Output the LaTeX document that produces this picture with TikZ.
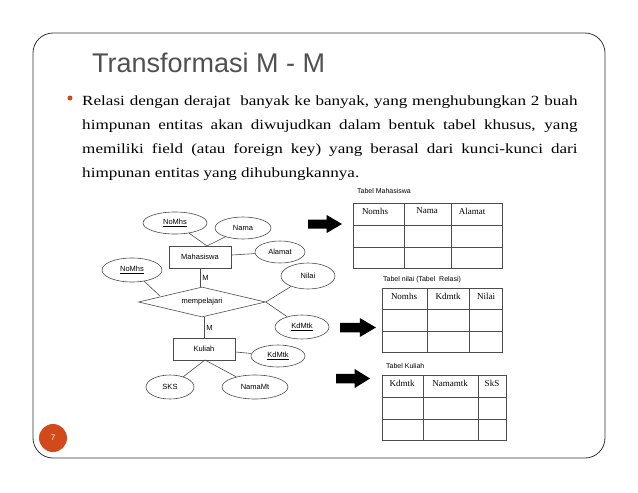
\documentclass[tikz,border=0pt]{standalone}
\usepackage{fontspec}
\setmainfont{Liberation Serif}
\setsansfont{Liberation Sans}
\usetikzlibrary{shapes.geometric}
\definecolor{pg}{HTML}{D24A1C}
\definecolor{tt}{HTML}{505050}
\begin{document}
\begin{tikzpicture}[x=1pt,y=-1pt,
  er/.style={draw=black!70,line width=0.6pt,font=\sffamily\fontsize{7.5}{8}\selectfont,inner sep=0pt},
  att/.style={er,ellipse},
  ent/.style={er,rectangle},
  lnk/.style={draw=black!70,line width=0.6pt},
  grid/.style={draw=black!70,line width=0.6pt},
  tcap/.style={font=\sffamily\fontsize{7}{8}\selectfont,anchor=west,inner sep=0pt},
  hd/.style={font=\fontsize{9}{9}\selectfont,inner sep=0pt}]
\useasboundingbox (0,0) rectangle (638,493);
% frame
\draw[black!80,line width=0.8pt,rounded corners=20pt] (33,33) rectangle (605,458);
\node[circle,fill=pg,minimum size=28pt,inner sep=0pt,text=white,font=\sffamily\fontsize{8}{9}\selectfont] (pgn) at (53,438) {7};
% title
\node[anchor=base west,inner sep=0pt,text=tt,font=\sffamily\fontsize{27}{30}\selectfont] (title) at (92,72) {Transformasi M - M};
% body
\node[circle,fill=pg,minimum size=5pt,inner sep=0pt] (bul) at (70,98) {};
\begin{scope}[every node/.style={anchor=base west,inner sep=0pt,font=\fontsize{14}{16}\selectfont,xscale=1.22}]
\node (l1) at (82,105) {\makebox[406pt][s]{Relasi dengan derajat\ \ banyak ke banyak, yang menghubungkan 2 buah}};
\node (l2) at (82,129) {\makebox[406pt][s]{himpunan entitas akan diwujudkan dalam bentuk tabel khusus, yang}};
\node (l3) at (82,153) {\makebox[406pt][s]{memiliki field (atau foreign key) yang berasal dari kunci-kunci dari}};
\node (l4) at (82,177) {himpunan entitas yang dihubungkannya.};
\end{scope}
% ER
\node[ent,minimum width=62pt,minimum height=22pt] (mhs) at (200,257) {Mahasiswa};
\node[ent,minimum width=62pt,minimum height=22pt] (kul) at (204,349) {Kuliah};
\node[er,diamond,aspect=4.2,minimum width=127pt,minimum height=30pt] (rel) at (202,302) {mempelajari};
\node[att,minimum width=64pt,minimum height=22pt] (nm1) at (175,223) {\underline{NoMhs}};
\node[att,minimum width=56pt,minimum height=22pt] (nama) at (243,228) {Nama};
\node[att,minimum width=50pt,minimum height=22pt] (alm) at (280,252) {Alamat};
\node[att,minimum width=60pt,minimum height=24pt] (nm2) at (132,270) {\underline{NoMhs}};
\node[att,minimum width=54pt,minimum height=26pt] (nil) at (308,276) {Nilai};
\node[att,minimum width=54pt,minimum height=24pt] (kd1) at (302,327) {\underline{KdMtk}};
\node[att,minimum width=54pt,minimum height=22pt] (kd2) at (278,356) {\underline{KdMtk}};
\node[att,minimum width=48pt,minimum height=24pt] (sks) at (170,387) {SKS};
\node[att,minimum width=66pt,minimum height=24pt] (nmt) at (255,387) {NamaMt};
\coordinate (mt) at (207,246);
\coordinate (kb) at (205,360);
\draw[lnk] (nm1) -- (mt) -- (nama);
\draw[lnk] (mhs) -- (alm);
\draw[lnk] (mhs) -- node[right,font=\sffamily\fontsize{7.5}{8}\selectfont,inner sep=2pt] {M} (mhs|-rel.north);
\draw[lnk] (rel.south-|kul) -- node[right,font=\sffamily\fontsize{7.5}{8}\selectfont,inner sep=2pt] {M} (kul);
\draw[lnk] (nm2) -- (160,296);
\draw[lnk] (rel.east) -- (nil);
\draw[lnk] (rel.east) -- (kd1);
\draw[lnk] (kul) -- (kd2);
\draw[lnk] (sks) -- (kb) -- (nmt);
% arrows
\foreach \x/\y/\w/\h in {308/215/34/18, 340/318/36/19, 336/369/34/19}{
  \fill (\x,\y+0.25*\h) -- (\x+0.55*\w,\y+0.25*\h) -- (\x+0.55*\w,\y) -- (\x+\w,\y+0.5*\h) -- (\x+0.55*\w,\y+\h) -- (\x+0.55*\w,\y+0.75*\h) -- (\x,\y+0.75*\h) -- cycle;
}
% tables
\node[tcap] (c1) at (357,191) {Tabel Mahasiswa};
\draw[grid] (353,203) rectangle (502,268) (404,203)--(404,268) (451,203)--(451,268) (353,225)--(502,225) (353,247)--(502,247);
\node[hd] (h11) at (375,211) {Nomhs};
\node[hd] (h12) at (427,211) {Nama};
\node[hd] (h13) at (472,211) {Alamat};
\node[tcap] (c2) at (383,280) {Tabel nilai (Tabel\ \ Relasi)};
\draw[grid] (382,288) rectangle (502,352) (427,288)--(427,352) (469,288)--(469,352) (382,309)--(502,309) (382,331)--(502,331);
\node[hd] (h21) at (404,296) {Nomhs};
\node[hd] (h22) at (448,296) {Kdmtk};
\node[hd] (h23) at (486,296) {Nilai};
\node[tcap] (c3) at (386,366) {Tabel Kuliah};
\draw[grid] (382,375) rectangle (506,440) (423,375)--(423,440) (478,375)--(478,440) (382,397)--(506,397) (382,419)--(506,419);
\node[hd] (h31) at (402,383) {Kdmtk};
\node[hd] (h32) at (450,383) {Namamtk};
\node[hd] (h33) at (492,383) {SkS};
\end{tikzpicture}
\end{document}
